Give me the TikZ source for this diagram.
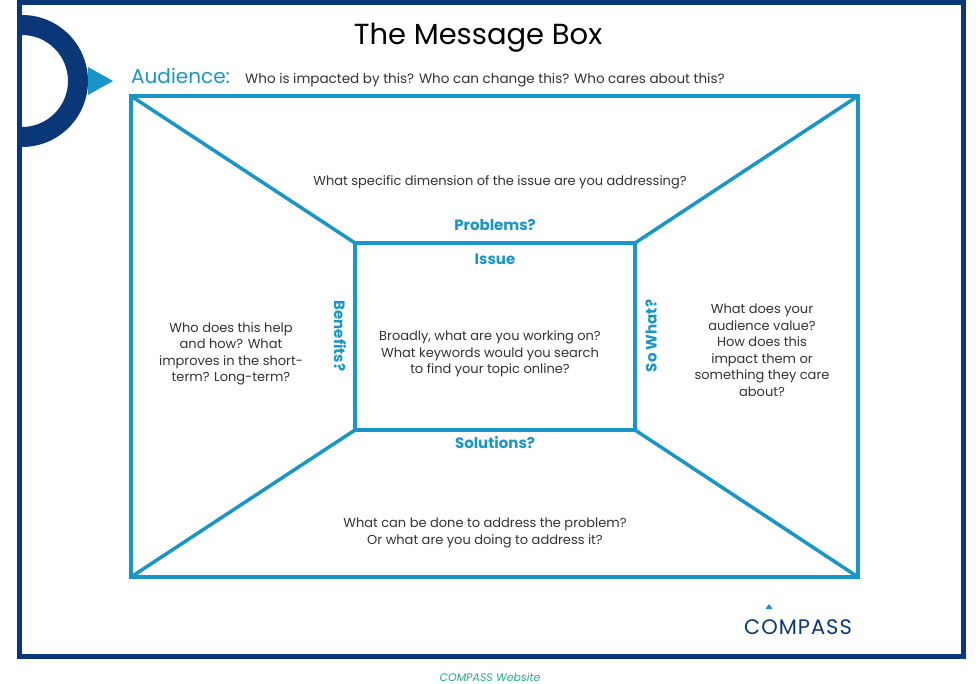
\documentclass[tikz,border=0pt]{standalone}
\usepackage{fontspec}
\setmainfont{Poppins}
\definecolor{navy}{RGB}{10,55,120}
\definecolor{cy}{RGB}{25,150,200}
\definecolor{cap}{RGB}{40,170,140}
\begin{document}
\begin{tikzpicture}[x=1pt,y=-1pt,
  q/.style={font=\fontsize{13}{16.5}\selectfont, text=black!80, align=center},
  lab/.style={font=\fontsize{15}{18}\selectfont\bfseries, text=cy},
  box/.style={draw=cy, line width=3.5pt}]
\fill[white] (0,0) rectangle (980,684);
\useasboundingbox (0,0) rectangle (980,684);
\begin{scope}
\clip (22,0) rectangle (120,200);
\fill[navy,even odd rule] (22,81) circle[radius=66] (22,81) circle[radius=46];
\end{scope}
\draw[navy, line width=5pt] (19.5,2.5) rectangle (963,656);
\fill[cy] (88,67) -- (113,81) -- (88,95) -- cycle;
\node (title) at (478,38) {\fontsize{29}{34}\selectfont The Message Box};
\node[anchor=base west, inner sep=0] (aud) at (131,84) {\fontsize{20}{22}\selectfont\color{cy}Audience:};
\node[anchor=base west, inner sep=0] (audq) at (245,84) {\fontsize{13.5}{16}\selectfont\color{black!80}Who is impacted by this? Who can change this? Who cares about this?};
\coordinate (A) at (131,96); \coordinate (B) at (858,96);
\coordinate (C) at (858,577); \coordinate (D) at (131,577);
\coordinate (a) at (355,243); \coordinate (b) at (635,243);
\coordinate (c) at (635,430); \coordinate (d) at (355,430);
\draw[box] (A) rectangle (C);
\draw[box] (a) rectangle (c);
\draw[box] (A) -- (a) (B) -- (b) (C) -- (c) (D) -- (d);
\node[q] (t1) at (500,182) {What specific dimension of the issue are you addressing?};
\node[lab] (prob) at (495,225) {Problems?};
\node[lab] (iss) at (495,259) {Issue};
\node[lab] (sol) at (495,443) {Solutions?};
\node[lab, rotate=-90] (ben) at (340,336) {Benefits?};
\node[lab, rotate=90] (sow) at (651,336) {So What?};
\node[q] (t2) at (490,354) {Broadly, what are you working on?\\What keywords would you search\\to find your topic online?};
\node[q] (t3) at (231,354) {Who does this help\\and how? What\\improves in the short-\\term? Long-term?};
\node[q] (t4) at (762,350) {What does your\\audience value?\\How does this\\impact them or\\something they care\\about?};
\node[q] (t5) at (485,533) {What can be done to address the problem?\\Or what are you doing to address it?};
\node[anchor=base, inner sep=0] (comp) at (798,634) {\fontsize{21}{24}\selectfont\color{navy}C\kern1pt O\kern1pt M\kern1pt P\kern1pt A\kern1pt S\kern1pt S};
\fill[cy] (765.5,609) -- (769,604) -- (772.5,609) -- cycle;
\node (capt) at (490,677) {\fontsize{11}{13}\selectfont\itshape\color{cap}COMPASS Website};
\end{tikzpicture}
\end{document}
